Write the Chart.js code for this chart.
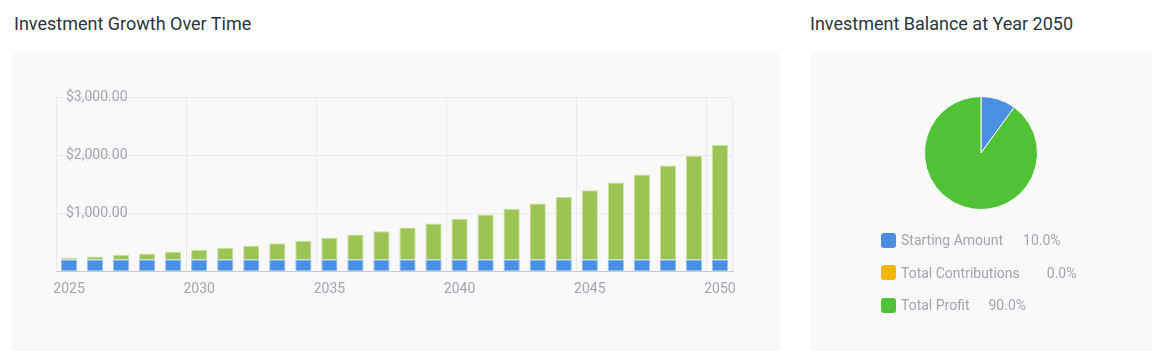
<!DOCTYPE html>
<html>
<head>
<meta charset="utf-8">
<script src="https://cdn.jsdelivr.net/npm/chart.js@4.4.0/dist/chart.umd.min.js"></script>
<style>
  body { margin: 0; background: #fff; font-family: Roboto, sans-serif; width: 1159px; height: 351px; overflow: hidden; position: relative; }
  .title { position: absolute; top: 15px; font-size: 18px; line-height: 1; color: #2b3440; white-space: nowrap; }
  .panel { position: absolute; top: 52px; background: #f9f9f9; height: 310px; }
  #growthPanel { left: 12px; width: 768px; }
  #balancePanel { left: 810px; width: 342px; }
  .panel canvas { position: absolute; left: 0; top: 0; }
  #legend { position: absolute; left: 71px; top: 178px; }
  .row { display: flex; align-items: center; height: 20px; margin-bottom: 12.7px; font-size: 14px; color: #a0a5b3; white-space: nowrap; }
  .box { width: 15px; height: 15px; border-radius: 3px; margin-right: 5px; }
</style>
</head>
<body>
<div class="title" style="left:14px">Investment Growth Over Time</div>
<div class="title" style="left:810px">Investment Balance at Year 2050</div>
<div class="panel" id="growthPanel"><canvas id="growthChart" width="768" height="299"></canvas></div>
<div class="panel" id="balancePanel"><canvas id="balanceChart" width="342" height="202"></canvas><div id="legend"></div></div>

<script>
// данные по годам
const years = [2025, 2026, 2027, 2028, 2029, 2030, 2031, 2032, 2033, 2034, 2035, 2036, 2037,
               2038, 2039, 2040, 2041, 2042, 2043, 2044, 2045, 2046, 2047, 2048, 2049, 2050];
const startingAmount = [200, 200, 200, 200, 200, 200, 200, 200, 200, 200, 200, 200, 200,
                        200, 200, 200, 200, 200, 200, 200, 200, 200, 200, 200, 200, 200];
const profit = [31, 54, 83, 106, 135, 170, 205, 239, 280, 326, 378, 430, 488,
                551, 621, 702, 777, 875, 968, 1077, 1193, 1326, 1465, 1621, 1788, 1973];
const yTicks = [0, 1000, 2000, 3000];

// структура баланса на 2050 год (%)
const balanceLabels = ["Starting Amount", "Total Contributions", "Total Profit"];
const balanceShares = [10.0, 0.0, 90.0];
const balanceColors = ["#4a90e2", "#f1b70c", "#50c236"];

Chart.defaults.font.family = "Roboto";
Chart.defaults.color = "#a0a5b3";

const gridColor = "#ebebeb";
const money = (v) => "$" + v.toLocaleString("en-US", { minimumFractionDigits: 2, maximumFractionDigits: 2 });

new Chart(document.getElementById("growthChart"), {
  type: "bar",
  data: {
    labels: years,
    datasets: [
      {
        label: "Starting Amount",
        data: startingAmount,
        backgroundColor: "#4a90e2",
        borderColor: "#93bdee",
        borderWidth: 1,
        barPercentage: 0.78,
        categoryPercentage: 0.8
      },
      {
        label: "Total Profit",
        data: profit,
        backgroundColor: "#9cc455",
        borderColor: "#c8e0a2",
        borderWidth: 1,
        barPercentage: 0.78,
        categoryPercentage: 0.8
      }
    ]
  },
  options: {
    responsive: false,
    animation: false,
    events: [],
    layout: { padding: { left: 24, right: 47, top: 45, bottom: 43 } },
    plugins: { legend: { display: false }, tooltip: { enabled: false } },
    scales: {
      x: {
        stacked: true,
        border: { color: "#c9c9c9", width: 1 },
        grid: {
          drawTicks: false,
          color: (ctx) => (ctx.index === undefined || ctx.index % 5 === 0) ? gridColor : "rgba(0,0,0,0)"
        },
        ticks: {
          autoSkip: false,
          maxRotation: 0,
          padding: 10,
          font: { size: 14 },
          callback: (val, i) => (i % 5 === 0 ? years[i] : "")
        }
      },
      y: {
        stacked: true,
        min: yTicks[0],
        max: yTicks[yTicks.length - 1],
        border: { color: gridColor },
        grid: { color: gridColor, drawTicks: false },
        ticks: {
          stepSize: 1000,
          mirror: true,
          padding: 10,
          font: { size: 14 },
          callback: (v) => (v === 0 ? "" : money(v))
        }
      }
    }
  }
});

new Chart(document.getElementById("balanceChart"), {
  type: "pie",
  data: {
    labels: balanceLabels,
    datasets: [{
      data: balanceShares,
      backgroundColor: balanceColors,
      borderColor: "#f9f9f9",
      borderWidth: 1
    }]
  },
  options: {
    responsive: false,
    animation: false,
    events: [],
    layout: { padding: 44 },
    plugins: { legend: { display: false }, tooltip: { enabled: false } }
  }
});

// легенда с процентами
const gaps = [20, 27, 19];
const legend = document.getElementById("legend");
balanceLabels.forEach((name, i) => {
  const row = document.createElement("div");
  row.className = "row";
  row.innerHTML = `<span class="box" style="background:${balanceColors[i]}"></span>` +
    `<span>${name}</span><span style="margin-left:${gaps[i]}px">${balanceShares[i].toFixed(1)}%</span>`;
  legend.appendChild(row);
});
</script>
</body>
</html>
